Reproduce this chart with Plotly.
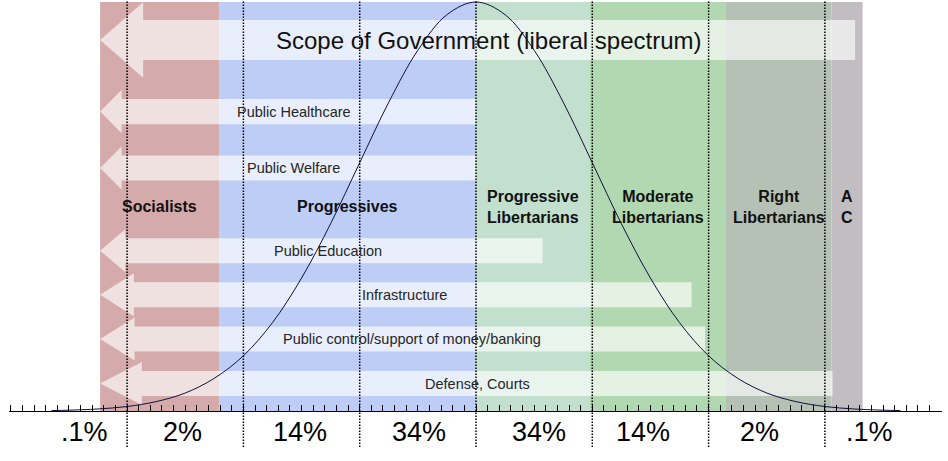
import plotly.graph_objects as go

# ---------------- data ----------------
# bell curve heights (peak = 1), x in standard deviations
curve_x = [-3.65, -3.5, -3.25, -3.0, -2.75, -2.5, -2.25, -2.0, -1.75, -1.5, -1.25, -1.0,
           -0.75, -0.5, -0.25, 0.0, 0.25, 0.5, 0.75, 1.0, 1.25, 1.5, 1.75, 2.0,
           2.25, 2.5, 2.75, 3.0, 3.25, 3.5, 3.65]
curve_y = [0.001, 0.002, 0.005, 0.011, 0.023, 0.044, 0.080, 0.135, 0.216, 0.325, 0.458, 0.607,
           0.755, 0.882, 0.969, 1.000, 0.969, 0.882, 0.755, 0.607, 0.458, 0.325, 0.216, 0.135,
           0.080, 0.044, 0.023, 0.011, 0.005, 0.002, 0.001]

sigma_lines = [-3, -2, -1, 0, 1, 2, 3]
pct_labels = [".1%", "2%", "14%", "34%", "34%", "14%", "2%", ".1%"]

groups = ["Socialists", "Progressives", "Progressive<br>Libertarians",
          "Moderate<br>Libertarians", "Right<br>Libertarians", "A<br>C"]
group_edges = [-3.232, -2.209, 0.0, 0.98, 2.149, 3.057, 3.324]

policies = ["Scope of Government (liberal spectrum)", "Public Healthcare", "Public Welfare",
            "Public Education", "Infrastructure",
            "Public control/support of money/banking", "Defense, Courts"]
policy_reach = [3.26, 0.0, 0.0, 0.573, 1.854, 1.97, 3.066]

# ---------------- layout / style ----------------
group_colors = ["#d5aaaa", "#bdcdf6", "#c3dfcd", "#b1d8b0", "#b5c1b4", "#c1bdc1"]
pct_x = [-3.37, -2.52, -1.51, -0.49, 0.54, 1.44, 2.44, 3.38]
row_y = [0.907, 0.732, 0.594, 0.392, 0.284, 0.176, 0.067]
body_half = [0.0489, 0.0306, 0.0306, 0.0306, 0.0306, 0.0306, 0.0306]
head_half = [0.0922, 0.0526, 0.0526, 0.0526, 0.0526, 0.0526, 0.0526]
label_sizes = [24, 14.5, 14.5, 14.5, 14.5, 14.5, 14.5]
label_colors = ["#111111"] + ["#262626"] * 6
FONT = "Liberation Sans, Arial, sans-serif"

x_range = [-4.0155, 4.0069]
y_range = [0, 411 / 409]

fig = go.Figure()

shapes = []
annotations = []

# coloured group bands
for i, g in enumerate(groups):
    shapes.append(dict(type="rect", xref="x", yref="y", layer="below",
                       x0=group_edges[i], x1=group_edges[i + 1], y0=0, y1=1.0,
                       fillcolor=group_colors[i], line=dict(width=0)))
    annotations.append(dict(x=(group_edges[i] + group_edges[i + 1]) / 2, y=0.499,
                            xref="x", yref="y", text="<b>" + g + "</b>", showarrow=False,
                            font=dict(family=FONT, size=16, color="#111111"),
                            xanchor="center", yanchor="middle", align="center"))

# arrows
tip = group_edges[0]
for i, p in enumerate(policies):
    end = policy_reach[i]
    hl = 0.057 * (end - tip)
    xb = tip + hl
    yc = row_y[i]
    bh = body_half[i]
    hh = head_half[i]
    path = (f"M {tip},{yc} L {xb},{yc + hh} L {xb},{yc + bh} L {end},{yc + bh} "
            f"L {end},{yc - bh} L {xb},{yc - bh} L {xb},{yc - hh} Z")
    shapes.append(dict(type="path", xref="x", yref="y", layer="below", path=path,
                       fillcolor="rgba(255,255,255,0.65)", line=dict(width=0)))
    annotations.append(dict(x=(tip + end) / 2 + 0.27 * hl, y=yc, xref="x", yref="y",
                            text=p, showarrow=False,
                            font=dict(family=FONT, size=label_sizes[i], color=label_colors[i]),
                            xanchor="center", yanchor="middle"))

# dotted sigma lines
for s in sigma_lines:
    shapes.append(dict(type="line", xref="x", yref="paper", layer="above",
                       x0=s, x1=s, y0=-0.0876, y1=1.0,
                       line=dict(color="#000000", width=1.5, dash="1.5px,1.5px")))

# percentage labels
for lx, lt in zip(pct_x, pct_labels):
    annotations.append(dict(x=lx, y=-0.0523, xref="x", yref="paper", text=lt,
                            showarrow=False, font=dict(family=FONT, size=27, color="#000000"),
                            xanchor="center", yanchor="middle"))

fig.add_trace(go.Scatter(x=curve_x, y=curve_y, mode="lines",
                         line=dict(color="#10103c", width=1, shape="spline", smoothing=1.0),
                         hoverinfo="skip", showlegend=False))

fig.update_layout(
    width=948, height=461, autosize=False,
    margin=dict(l=9, r=6, t=0, b=50, pad=0),
    paper_bgcolor="white", plot_bgcolor="white",
    shapes=shapes, annotations=annotations, showlegend=False,
    xaxis=dict(range=x_range, showgrid=False, zeroline=False, showticklabels=False,
               ticks="inside", ticklen=6, tickwidth=1, tickcolor="#000000",
               tick0=0, dtick=0.1, showline=True, linecolor="#000000", linewidth=1,
               fixedrange=True),
    yaxis=dict(range=y_range, visible=False, fixedrange=True),
)

fig.write_html("out.html", config={"displayModeBar": False},
               post_script="document.body.style.margin='0';document.body.style.overflow='hidden';")
